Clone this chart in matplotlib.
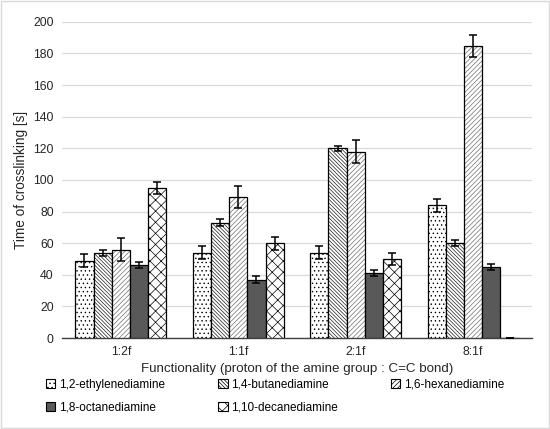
import numpy as np
import matplotlib
matplotlib.use("Agg")
import matplotlib.pyplot as plt

plt.rcParams['font.family'] = ['Liberation Sans', 'DejaVu Sans']
plt.rcParams['hatch.linewidth'] = 0.5

groups = ["1:2f", "1:1f", "2:1f", "8:1f"]
amines = ["1,2-ethylenediamine", "1,4-butanediamine", "1,6-hexanediamine",
          "1,8-octanediamine", "1,10-decanediamine"]

# time of crosslinking [s], one list per amine, over the groups
ethylene = [49, 54, 54, 84]
butane = [54, 73, 120, 60]
hexane = [56, 89, 118, 185]
octane = [46, 37, 41, 45]
decane = [95, 60, 50, 0]

ethylene_err = [4, 4, 4, 4]
butane_err = [2, 2, 1.5, 2]
hexane_err = [7, 7, 7, 7]
octane_err = [2, 2, 2, 2]
decane_err = [4, 4, 4, 0]

values = [ethylene, butane, hexane, octane, decane]
errors = [ethylene_err, butane_err, hexane_err, octane_err, decane_err]
hatches = ["....", "\\" * 9, "/" * 7, "", "xxx"]
hatch_cols = ["black", "#202020", "#707070", "black", "black"]
faces = ["white", "white", "white", "#595959", "white"]

fig = plt.figure(figsize=(5.5, 4.29), dpi=100)
ax = fig.add_axes([0.113, 0.212, 0.854, 0.737])

x = np.arange(len(groups))
w = 0.155
for i in range(len(amines)):
    pos = x + (i - 2) * w
    # hatch layer (edge colour sets hatch colour), then black outline on top
    ax.bar(pos, values[i], w, color=faces[i], edgecolor=hatch_cols[i], linewidth=0,
           hatch=hatches[i], zorder=3)
    ax.bar(pos, values[i], w, fill=False, edgecolor="black", linewidth=0.9, zorder=3)
    ax.errorbar(pos, values[i], yerr=errors[i], fmt="none", ecolor="black",
                elinewidth=1.1, capsize=3, capthick=1.1, zorder=4)

# legend proxies with the same look
handles = [plt.Rectangle((0, 0), 1, 1, facecolor=faces[i], edgecolor="black",
                         linewidth=0.8, hatch=hatches[i]) for i in range(len(amines))]

ax.set_xlim(-0.5, len(groups) - 0.5)
ax.set_ylim(0, 200)
ax.set_yticks(np.arange(0, 201, 20))
ax.set_xticks(x)
ax.set_xticklabels(groups)
ax.tick_params(axis="both", length=0, labelsize=8.8, colors="#262626", pad=6)
ax.grid(axis="y", color="#d9d9d9", linewidth=0.9, zorder=0)
for s in ["left", "right", "top"]:
    ax.spines[s].set_visible(False)
ax.spines["bottom"].set_color("#404040")
ax.spines["bottom"].set_linewidth(1.0)

ax.set_ylabel("Time of crosslinking [s]", fontsize=9.8, color="#262626", labelpad=4)
ax.set_xlabel("Functionality (proton of the amine group : C=C bond)", fontsize=9.6,
              color="#262626", labelpad=3)

# legend fills row by row like the original
order = [0, 3, 1, 4, 2]
fig.legend([handles[k] for k in order], [amines[k] for k in order],
           loc="upper left", bbox_to_anchor=(0.075, 0.128), ncol=3, frameon=False,
           fontsize=8.5, handlelength=0.8, handleheight=0.8, handletextpad=0.3,
           columnspacing=4.5, labelspacing=0.9, borderaxespad=0)

fig.patches.append(plt.Rectangle((0.002, 0.002), 0.996, 0.996, transform=fig.transFigure,
                                 fill=False, edgecolor="#d9d9d9", linewidth=1))

fig.savefig("out.png", dpi=100)
